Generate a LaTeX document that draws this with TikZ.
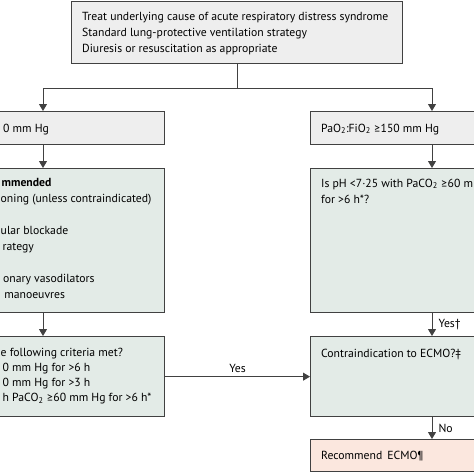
\documentclass[tikz,border=0pt]{standalone}
\usepackage{fontspec}
\setmainfont{PT Sans}
\newfontfamily\symfont{Lato}
\newcommand{\gesym}{{\symfont ≥}}
\usetikzlibrary{arrows.meta}

\definecolor{boxgrey}{RGB}{238,238,238}
\definecolor{boxgreen}{RGB}{227,235,231}
\definecolor{boxpeach}{RGB}{251,231,222}
\definecolor{linegrey}{RGB}{65,65,65}

\begin{document}
\begin{tikzpicture}[
        x=1pt, y=-1pt,
        every node/.style={font=\fontsize{11.7}{16}\selectfont, inner sep=0pt},
        box/.style={rectangle, draw=linegrey, line width=1.3pt, anchor=north west},
        greybox/.style={box, fill=boxgrey},
        greenbox/.style={box, fill=boxgreen},
        peachbox/.style={box, fill=boxpeach},
        txt/.style={anchor=north west, align=left},
        linetxt/.style={anchor=base west},
        conn/.style={draw=linegrey, line width=1pt},
        arr/.style={conn, -{Triangle[length=7pt,width=8pt]}}
        ]
        \useasboundingbox (0,0) rectangle (474,474);
        \clip (0,0) rectangle (474,474);

        % boxes
        \node[greybox, minimum width=331pt, minimum height=62pt] (top) at (71,1) {};
        \node[greybox, minimum width=184pt, minimum height=33pt] (l1) at (-20,111) {};
        \node[greybox, minimum width=184pt, minimum height=33pt] (r1) at (310,111) {};
        \node[greenbox, minimum width=184pt, minimum height=144pt] (l2) at (-20,168) {};
        \node[greenbox, minimum width=184pt, minimum height=144pt] (r2) at (310,168) {};
        \node[greenbox, minimum width=184pt, minimum height=80pt] (l3) at (-20,336) {};
        \node[greenbox, minimum width=184pt, minimum height=80pt] (r3) at (310,336) {};
        \node[peachbox, minimum width=184pt, minimum height=32pt] (r4) at (310,439) {};

        % texts
        \node[txt] (toptxt) at (82,12.5) {Treat underlying cause of acute respiratory distress syndrome\\
          Standard lung-protective ventilation strategy\\
          Diuresis or resuscitation as appropriate};
        \node[linetxt] (l1txt) at (3,132) {0 mm Hg};
        \node[linetxt] (r1txt) at (321,132) {PaO\textsubscript{2}:FiO\textsubscript{2} \gesym150 mm Hg};
        \node[txt] (l2txt) at (0.5,178.5) {\hspace*{1pt}\textbf{mmended}\\
          oning (unless contraindicated)\\[16pt]
          ular blockade\\
          \hspace*{2pt}rategy\\[16pt]
          \hspace*{2.5pt}onary vasodilators\\
          \hspace*{0.5pt} manoeuvres};
        \node[txt] (r2txt) at (321,178.5) {Is pH <7·25 with PaCO\textsubscript{2} \gesym60 m\\
          for >6 h*?};
        \node[txt, font=\fontsize{11.7}{15.3}\selectfont] (l3txt) at (0.5,347.5) {e following criteria met?\\
          \hspace*{2pt}0 mm Hg for >6 h\\
          \hspace*{2pt}0 mm Hg for >3 h\\
          \hspace*{2pt}h PaCO\textsubscript{2} \gesym60 mm Hg for >6 h*};
        \node[linetxt] (r3txt) at (321,357) {Contraindication to ECMO?‡};
        \node[linetxt] (r4txt) at (321,459) {Recommend\hspace{2pt} ECMO¶};

        % connectors
        \coordinate (lsplit) at (43,88);
        \coordinate (rsplit) at (432,88);
        \draw[conn] (top.south) -- (top.south |- lsplit);
        \draw[conn] (lsplit) -- (rsplit);
        \draw[arr] (lsplit) -- (lsplit |- l1.north);
        \draw[arr] (rsplit) -- (rsplit |- r1.north);
        \draw[arr] (lsplit |- l1.south) -- (lsplit |- l2.north);
        \draw[arr] (rsplit |- r1.south) -- (rsplit |- r2.north);
        \draw[arr] (lsplit |- l2.south) -- (lsplit |- l3.north);
        \draw[arr] (rsplit |- r2.south) -- node[right=6pt] (yes2) {Yes†} (rsplit |- r3.north);
        \draw[arr] (rsplit |- r3.south) -- node[right=6pt] (no) {No} (rsplit |- r4.north);
        \draw[arr] (l3.east) -- node[above=4pt] (yes1) {Yes} (r3.west);
\end{tikzpicture}
\end{document}
